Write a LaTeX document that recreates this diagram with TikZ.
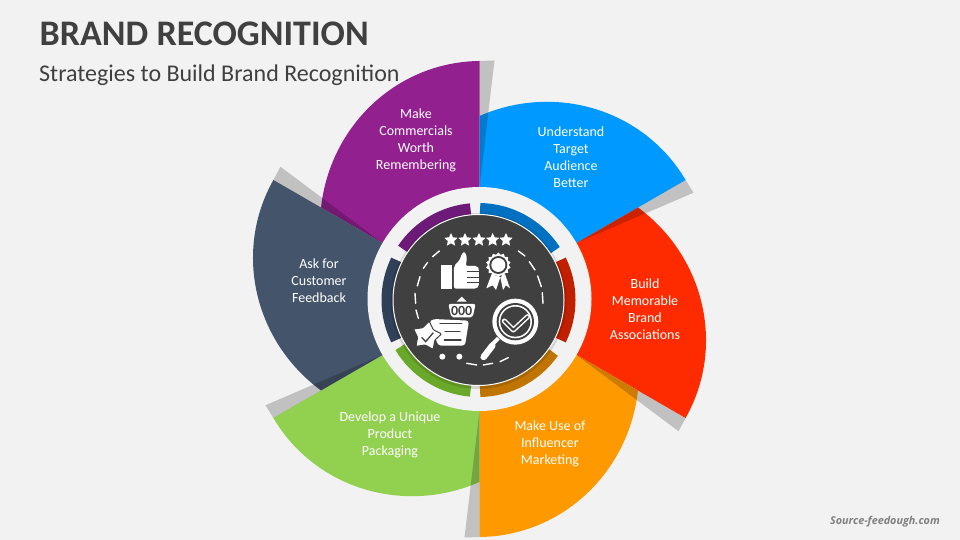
\documentclass[tikz,border=0pt]{standalone}
\usepackage{fontspec}
\setmainfont{Carlito}
\newfontfamily\srcfont{Open Sans}
\usetikzlibrary{shapes.geometric}
\definecolor{bgc}{HTML}{F2F2F2}
\definecolor{ink}{HTML}{404040}
\definecolor{cPurple}{HTML}{92208F}
\definecolor{cBlue}{HTML}{0099FF}
\definecolor{cRed}{HTML}{FF2B00}
\definecolor{cOrange}{HTML}{FF9900}
\definecolor{cGreen}{HTML}{92D050}
\definecolor{cSlate}{HTML}{44546A}
\definecolor{dPurple}{HTML}{6E1A78}
\definecolor{dBlue}{HTML}{0070C0}
\definecolor{dRed}{HTML}{C01F00}
\definecolor{dOrange}{HTML}{C07500}
\definecolor{dGreen}{HTML}{6AA82A}
\definecolor{dSlate}{HTML}{2F4058}
\tikzset{
  petaltext/.style={text=white,align=center,inner sep=0pt,font=\fontsize{14}{17}\selectfont},
  dashline/.style={draw=white,line width=1.4pt,line cap=round},
  iconstar/.style={star,star points=5,star point ratio=2.1,fill=white,inner sep=0pt,minimum size=14pt},
  darkline/.style={draw=ink,line width=1.3pt,line cap=round},
}
\begin{document}
\begin{tikzpicture}[x=1pt,y=1pt]
\useasboundingbox (0,0) rectangle (960,540);
\fill[bgc] (0,0) rectangle (960,540);
% petals
\begin{scope}[shift={(479.5,241)}]
\foreach \a/\c in {150/cPurple,90/cBlue,30/cRed,-30/cOrange,-90/cGreen,-150/cSlate}{
  \fill[\c] (0,0) -- (\a:183) .. controls (\a-19.3:229) and (\a-40.85:251) .. (\a-60:238) -- cycle;
}
\foreach \a in {150,90,30,-30,-90,-150}{
  \fill[black,opacity=.2] (\a-60:112) -- (\a-60:238) -- (\a-63.6:239) -- cycle;
}
\fill[bgc] (0,0) circle[radius=112];
\end{scope}
% ring and disc
\begin{scope}[shift={(478.5,240)}]
\foreach \s/\e/\c in {146/95/dPurple,89/33/dBlue,26/-26/dRed,-35/-89/dOrange,-95/-149/dGreen,154/206/dSlate}{
  \draw[\c,line width=12pt] (\s:91) arc[start angle=\s,end angle=\e,radius=91];
}
\fill[black,opacity=.12] (0,-1) circle[radius=88];
\fill[ink,draw=white,line width=1pt] (0,0) circle[radius=85.5];
\end{scope}
% icons, in coordinates of a crop at (370,190) scaled 3x
\begin{scope}[shift={(370,350)},x=.3333pt,y=-.3333pt]
  % dashes
  \foreach \p/\q in {{(517,308)}/{(519,340)},{(503,258)}/{(514,290)},{(478,215)}/{(495,240)},{(445,183)}/{(465,198)},
     {(188,200)}/{(208,183)},{(160,235)}/{(173,217)},{(142,288)}/{(150,260)},{(135,310)}/{(137,340)},{(138,360)}/{(145,385)},
     {(290,520)}/{(320,525)},{(340,525)}/{(368,520)},{(390,515)}/{(415,503)}}{
    \draw[dashline] \p -- \q;
  }
  % stars
  \foreach \n/\x in {1/243,2/285,3/327,4/368,5/408}{
    \node[iconstar] (star\n) at (\x,150) {};
  }
  % thumb
  \fill[white] (213,225) rectangle (245,298);
  \fill[white,rounded corners=2pt] (252,228) -- (268,212) -- (278,186) -- (286,186) -- (291,205) -- (287,228) -- (322,228) -- (327,236) -- (327,288) -- (320,296) -- (252,296) -- cycle;
  \foreach \y in {245,262,279}{ \draw[ink,line width=1pt] (290,\y) -- (330,\y); }
  % rosette
  \node[star,star points=14,star point ratio=1.2,fill=white,inner sep=0pt,minimum size=25pt] (rosette) at (385,225) {};
  \fill[ink] (385,225) circle[radius=27];
  \fill[white] (385,225) circle[radius=21];
  \fill[white] (365,252) -- (349,295) -- (368,286) -- (378,300) -- (391,262) -- cycle;
  \fill[white] (405,252) -- (420,295) -- (408,286) -- (399,300) -- (391,262) -- cycle;
\end{scope}
% icons, in coordinates of a crop at (405,290) scaled 3x
\begin{scope}[shift={(405,250)},x=.3333pt,y=-.3333pt]
  % counter
  \fill[white] (155,35) -- (170,20) -- (185,35) -- cycle;
  \fill[white,rounded corners=2pt] (130,42) -- (212,42) -- (203,82) -- (139,82) -- cycle;
  \node[text=ink,inner sep=0pt,font=\bfseries\fontsize{14}{14}\selectfont] (digits) at (170,63) {000};
  % ticket
  \fill[white,rounded corners=3pt] (72,96) -- (85,87) -- (192,92) -- (180,167) -- (100,167) -- cycle;
  \draw[darkline] (105,100) -- (170,100);
  \draw[darkline] (120,125) -- (165,125);
  \draw[darkline] (118,150) -- (168,150);
  % star with tick
  \node[star,star points=5,star point ratio=1.65,fill=white,draw=ink,line width=1pt,inner sep=0pt,minimum size=30pt,rotate=-10,rounded corners=1pt] (tickstar) at (65,138) {};
  \draw[ink,line width=1.3pt] (50,142) -- (62,155) -- (85,128);
  % wheels
  \fill[white] (112,200) circle[radius=9] (163,200) circle[radius=9];
  % magnifier
  \draw[white,line width=4pt] (280,145) -- (262,163);
  \draw[white,line width=6.5pt,line cap=round] (262,167) -- (236,201);
  \fill[white] (331,95) circle[radius=69];
  \fill[ink] (331,95) circle[radius=56];
  \fill[white] (331,95) circle[radius=50];
  \fill[ink] (331,95) circle[radius=45];
  \draw[white,line width=5pt,line join=round,line cap=round] (298,93) -- (325,120) -- (368,80);
  \draw[ink,line width=2pt,line join=round,line cap=round] (298,93) -- (325,120) -- (368,80);
\end{scope}
% texts
\node[anchor=base west,inner sep=0pt,text=ink,font=\bfseries\fontsize{36}{36}\selectfont] (title) at (39.5,494.3) {BRAND RECOGNITION};
\node[anchor=base west,inner sep=0pt,text=ink,font=\fontsize{24}{24}\selectfont] (subtitle) at (39,458) {Strategies to Build Brand Recognition};
\node[petaltext] (t1) at (416,400) {Make\\Commercials\\Worth\\Remembering};
\node[petaltext] (t2) at (571,382.5) {Understand\\Target\\Audience\\Better};
\node[petaltext] (t3) at (645,230.5) {Build\\Memorable\\Brand\\Associations};
\node[petaltext] (t4) at (550,96) {Make Use of\\Influencer\\Marketing};
\node[petaltext] (t5) at (390,105) {Develop a Unique\\Product\\Packaging};
\node[petaltext] (t6) at (319,259) {Ask for\\Customer\\Feedback};
\node[anchor=base east,inner sep=0pt,text=black!50,font=\srcfont\bfseries\itshape\fontsize{10.8}{11}\selectfont] (source) at (940,15.3) {Source-feedough.com};
\end{tikzpicture}
\end{document}
